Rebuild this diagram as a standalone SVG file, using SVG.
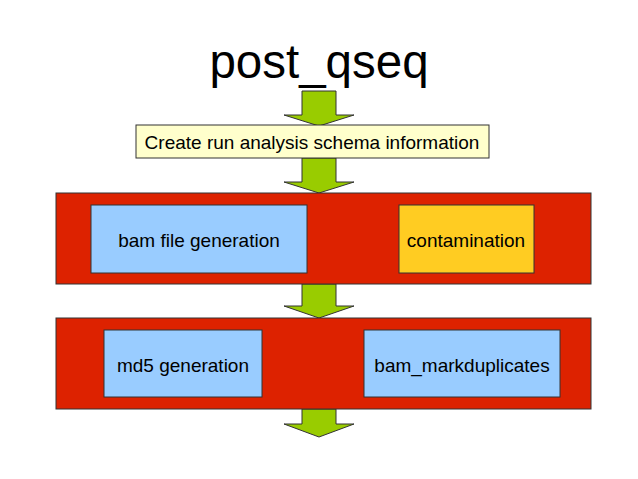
<svg xmlns="http://www.w3.org/2000/svg" width="638" height="479" viewBox="0 0 638 479">
<style>
text{font-family:"Liberation Sans",Arial,sans-serif;fill:#000}
.a{fill:#99cc00;stroke:#333;stroke-width:1}
.r{fill:#dd2200;stroke:#333;stroke-width:1}
.b{fill:#99ccff;stroke:#333;stroke-width:1}
.l{font-size:19px;text-anchor:middle}
</style>
<rect width="638" height="479" fill="#fff"/>
<text x="319" y="78" font-size="47.5" text-anchor="middle">post_qseq</text>
<g id="connectors">
<path class="a" d="M302 91H336V115H354L319 126L284 115H302Z"/>
<path class="a" d="M302 158H336V182H354L319 193L284 182H302Z"/>
<path class="a" d="M302 284H336V306H354L319 318L284 306H302Z"/>
<path class="a" d="M302 409H336V424H354L319 437L284 424H302Z"/>
</g>
<g id="schema"><rect x="136" y="125" width="353" height="33" fill="#ffffcc" stroke="#333"/><text class="l" x="312" y="149">Create run analysis schema information</text></g>
<g id="group1"><rect class="r" x="56" y="193" width="535" height="91"/></g>
<g id="bam"><rect class="b" x="91" y="205" width="216" height="68"/><text class="l" x="199" y="247">bam file generation</text></g>
<g id="contamination"><rect x="399" y="205" width="135" height="68" fill="#ffcc22" stroke="#333"/><text class="l" x="466" y="247">contamination</text></g>
<g id="group2"><rect class="r" x="56" y="318" width="535" height="91"/></g>
<g id="md5"><rect class="b" x="104" y="330" width="158" height="67"/><text class="l" x="183" y="372">md5 generation</text></g>
<g id="markdup"><rect class="b" x="364" y="330" width="196" height="67"/><text class="l" x="462" y="372">bam_markduplicates</text></g>
</svg>
